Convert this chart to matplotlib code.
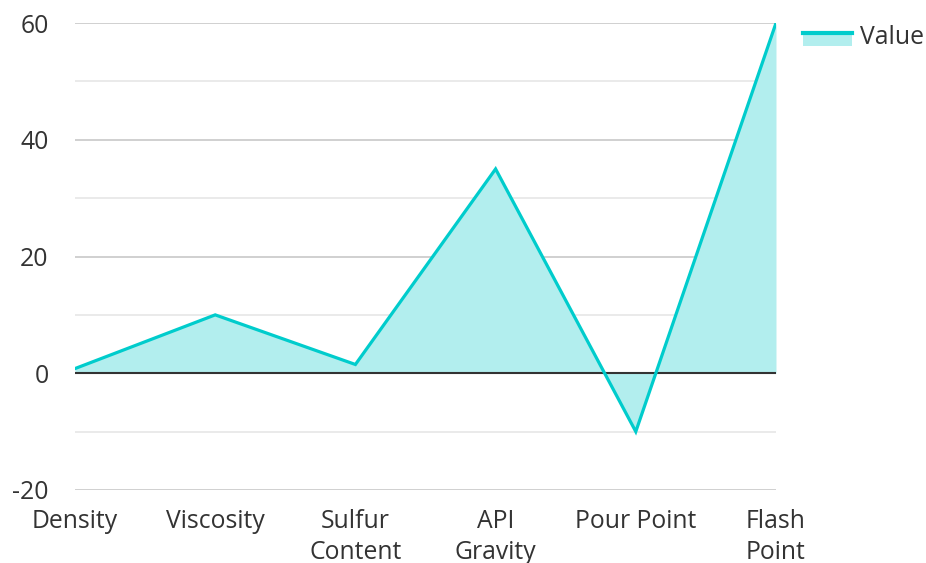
import numpy as np
import matplotlib.pyplot as plt
from matplotlib.legend_handler import HandlerBase
from matplotlib.patches import Rectangle
from matplotlib.lines import Line2D

plt.rcParams['font.family'] = ['Open Sans', 'DejaVu Sans']

categories = ['Density', 'Viscosity', 'Sulfur\nContent', 'API\nGravity', 'Pour Point', 'Flash\nPoint']
values = [0.8, 10, 1.5, 35, -10, 60]
y_major = [-20, 0, 20, 40, 60]
y_minor = [-10, 10, 30, 50]

line_color = '#00CCCC'
fill_color = '#B2EEEE'
text_color = '#333333'


class AreaHandler(HandlerBase):
    # line on top of a filled box, like an area series key
    def create_artists(self, legend, orig_handle, xdescent, ydescent,
                       width, height, fontsize, trans):
        top = -ydescent + height * 0.62
        bottom = -ydescent - height * 0.1
        r = Rectangle((-xdescent, bottom), width, top - bottom,
                      facecolor=fill_color, edgecolor='none', transform=trans)
        ln = Line2D([-xdescent, -xdescent + width], [top, top], color=line_color,
                    lw=3, transform=trans)
        return [r, ln]


fig = plt.figure(figsize=(9.26, 5.63), dpi=100)
ax = fig.add_axes([0.081, 0.1297, 0.757, 0.8294])

x = np.arange(len(categories))
ax.fill_between(x, values, 0, color=fill_color, lw=0, zorder=2)
line, = ax.plot(x, values, color=line_color, lw=2.3, zorder=4, solid_joinstyle='miter')

for v in y_major:
    ax.axhline(v, color='#c8c8c8', lw=1.2, zorder=1)
for v in y_minor:
    ax.axhline(v, color='#e6e6e6', lw=1.2, zorder=1)
ax.axhline(0, color='#333333', lw=1.5, zorder=3)

ax.set_xlim(0, len(categories) - 1)
ax.set_ylim(-20, 60)
ax.set_yticks(y_major)
ax.set_yticklabels([str(v) for v in y_major])
ax.set_xticks(x)
ax.set_xticklabels(categories, linespacing=1.3)
ax.tick_params(axis='both', length=0, labelsize=17.8, colors=text_color)
ax.tick_params(axis='y', pad=19)
ax.tick_params(axis='x', pad=14)
for s in ax.spines.values():
    s.set_visible(False)

ax.legend([line], ['Value'], handler_map={type(line): AreaHandler()},
          loc='upper left', bbox_to_anchor=(1.025, 1.017), frameon=False,
          fontsize=17.8, handlelength=1.95, handletextpad=0.35,
          labelcolor=text_color, borderaxespad=0)

fig.savefig('out.png', dpi=100)
